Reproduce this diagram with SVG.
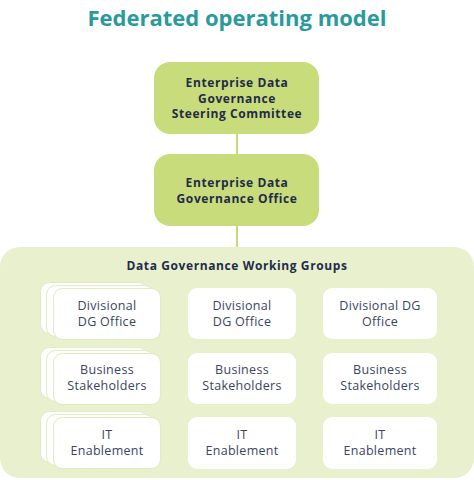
<svg xmlns="http://www.w3.org/2000/svg" width="474" height="480" viewBox="0 0 474 480">
<style>
.title{font-family:"Open Sans","Liberation Sans",sans-serif;font-weight:700;font-size:22px;fill:#2a9a9c;text-anchor:middle}
.top{fill:#c9dc7b}
.tb{font-family:"Open Sans","Liberation Sans",sans-serif;font-weight:700;font-size:12px;letter-spacing:0.6px;fill:#1e2b4a;text-anchor:middle}
.cont{fill:#e9f0cd}
.ib{fill:#ffffff}
.st{fill:#ffffff;stroke:#e2eac4;stroke-width:1}
.it{font-family:"Open Sans","Liberation Sans",sans-serif;font-size:12.5px;letter-spacing:0.3px;fill:#3a4560;text-anchor:middle}
.conn{stroke:#c5d87a;stroke-width:2;fill:none}
</style>
<rect width="474" height="480" fill="#ffffff"/>
<text class="title" x="237" y="26">Federated operating model</text>
<g id="connectors">
<line class="conn" x1="237" y1="134" x2="237" y2="155"/>
<line class="conn" x1="237" y1="226" x2="237" y2="248"/>
</g>
<g id="steering">
<rect class="top" x="154" y="62" width="165" height="72" rx="16"/>
<text class="tb" x="237" y="87">Enterprise Data</text>
<text class="tb" x="237" y="102.5">Governance</text>
<text class="tb" x="237" y="118">Steering Committee</text>
</g>
<g id="office">
<rect class="top" x="154" y="154" width="165" height="72" rx="16"/>
<text class="tb" x="237" y="187">Enterprise Data</text>
<text class="tb" x="237" y="202.5">Governance Office</text>
</g>
<g id="working-groups">
<rect class="cont" x="0" y="247" width="474" height="231" rx="20"/>
<text class="tb" x="237" y="270">Data Governance Working Groups</text>
</g>
<g id="c1r1">
<rect class="st" x="40.5" y="282.5" width="107" height="51" rx="9"/>
<rect class="st" x="46.5" y="285.5" width="107" height="51" rx="9"/>
<rect class="st" x="53.5" y="288.5" width="107" height="51" rx="9"/>
<text class="it" x="107" y="310">Divisional</text>
<text class="it" x="107" y="326">DG Office</text>
</g>
<g id="c1r2">
<rect class="st" x="40.5" y="347.5" width="107" height="51" rx="9"/>
<rect class="st" x="46.5" y="350.5" width="107" height="51" rx="9"/>
<rect class="st" x="53.5" y="353.5" width="107" height="51" rx="9"/>
<text class="it" x="107" y="374">Business</text>
<text class="it" x="107" y="390">Stakeholders</text>
</g>
<g id="c1r3">
<rect class="st" x="40.5" y="411.5" width="107" height="51" rx="9"/>
<rect class="st" x="46.5" y="414.5" width="107" height="51" rx="9"/>
<rect class="st" x="53.5" y="417.5" width="107" height="51" rx="9"/>
<text class="it" x="107" y="439">IT</text>
<text class="it" x="107" y="455">Enablement</text>
</g>
<g id="c2r1">
<rect class="ib" x="188" y="288" width="108" height="51" rx="9"/>
<text class="it" x="242" y="310">Divisional</text>
<text class="it" x="242" y="326">DG Office</text>
</g>
<g id="c2r2">
<rect class="ib" x="188" y="353" width="108" height="51" rx="9"/>
<text class="it" x="242" y="374">Business</text>
<text class="it" x="242" y="390">Stakeholders</text>
</g>
<g id="c2r3">
<rect class="ib" x="188" y="417" width="108" height="52" rx="9"/>
<text class="it" x="242" y="439">IT</text>
<text class="it" x="242" y="455">Enablement</text>
</g>
<g id="c3r1">
<rect class="ib" x="323" y="288" width="114" height="51" rx="9"/>
<text class="it" x="380" y="310">Divisional DG</text>
<text class="it" x="380" y="326">Office</text>
</g>
<g id="c3r2">
<rect class="ib" x="323" y="353" width="114" height="51" rx="9"/>
<text class="it" x="380" y="374">Business</text>
<text class="it" x="380" y="390">Stakeholders</text>
</g>
<g id="c3r3">
<rect class="ib" x="323" y="417" width="114" height="52" rx="9"/>
<text class="it" x="380" y="439">IT</text>
<text class="it" x="380" y="455">Enablement</text>
</g>
</svg>
